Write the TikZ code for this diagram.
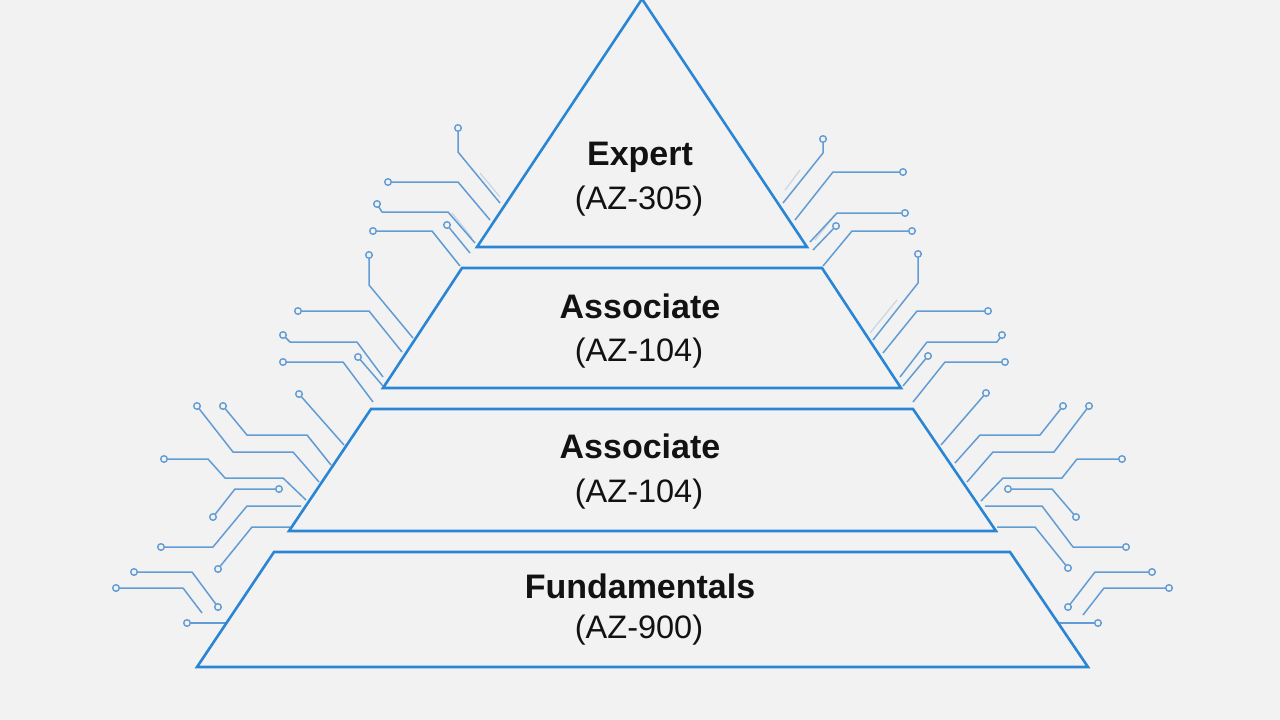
\documentclass[tikz,border=0pt]{standalone}
\usepackage{fontspec}
\setmainfont{Liberation Sans}
\definecolor{bgc}{RGB}{242,242,242}
\definecolor{tierblue}{RGB}{42,134,212}
\definecolor{tracec}{RGB}{98,156,212}
\definecolor{ghostc}{RGB}{200,214,228}
\definecolor{txtc}{RGB}{18,18,18}
\newcommand\ctr[2]{\draw[trace] (#1) #2; \draw[dotc] (#1) circle (3.3);}
\newcommand\tipdot[1]{\draw[dotc] (#1) circle (3.3);}
\begin{document}
\begin{tikzpicture}[x=1pt,y=-1pt,
  tier/.style={draw=tierblue,line width=2.6pt,line join=miter},
  trace/.style={draw=tracec,line width=1.5pt,line join=round},
  dotc/.style={draw=tracec,line width=1.4pt,fill=bgc},
  ghost/.style={draw=ghostc,line width=1.2pt},
  ttl/.style={anchor=base,text=txtc,font=\fontsize{34}{40}\selectfont\bfseries,inner sep=0pt},
  code/.style={anchor=base,text=txtc,font=\fontsize{32.5}{38}\selectfont,inner sep=0pt}]
\fill[bgc] (0,0) rectangle (1280,720);
\useasboundingbox (0,0) rectangle (1280,720);
% tier corners
\coordinate (t1a) at (642,-1);
\coordinate (t1l) at (477,247);
\coordinate (t1r) at (807,247);
\coordinate (t2tl) at (462,268);
\coordinate (t2tr) at (822,268);
\coordinate (t2bl) at (383,388);
\coordinate (t2br) at (901,388);
\coordinate (t3tl) at (371,409);
\coordinate (t3tr) at (913,409);
\coordinate (t3bl) at (289,531);
\coordinate (t3br) at (996,531);
\coordinate (t4tl) at (274,552);
\coordinate (t4tr) at (1010,552);
\coordinate (t4bl) at (197,667);
\coordinate (t4br) at (1088,667);
% ghost lines
\draw[ghost] (480,173) -- (500,197);
\draw[ghost] (452,213) -- (472,238);
\draw[ghost] (800,170) -- (785,190);
\draw[ghost] (897,300) -- (870,333);
\draw[ghost] (835,215) -- (815,240);
% left traces
\ctr{458,128}{-- (458,152) -- (500,203)}
\ctr{388,182}{-- (458,182) -- (490,220)}
\ctr{377,204}{-- (382,212) -- (448,212) -- (475,243)}
\ctr{447,225}{-- (470,253)}
\ctr{373,231}{-- (432,231) -- (460,266)}
\ctr{369,255}{-- (369,285) -- (413,338)}
\ctr{298,311}{-- (369,311) -- (402,352)}
\ctr{283,335}{-- (290,342) -- (357,342) -- (383,377)}
\ctr{283,362}{-- (343,362) -- (373,402)}
\ctr{358,357}{-- (383,386)}
\ctr{299,394}{-- (344,445)}
\ctr{223,406}{-- (247,435) -- (307,435) -- (331,465)}
\ctr{197,406}{-- (233,452) -- (293,452) -- (319,482)}
\ctr{164,459}{-- (208,459) -- (225,478) -- (283,478) -- (306,500)}
\ctr{279,489}{-- (235,489) -- (213,517)} \tipdot{213,517}
\ctr{161,547}{-- (213,547) -- (247,506) -- (301,506)}
\ctr{218,569}{-- (252,527) -- (290,527)}
\ctr{134,572}{-- (192,572) -- (218,607)} \tipdot{218,607}
\ctr{116,588}{-- (183,588) -- (202,613)}
\ctr{187,623}{-- (226,623)}
% right traces
\ctr{823,139}{-- (823,153) -- (783,203)}
\ctr{903,172}{-- (833,172) -- (795,220)}
\ctr{905,213}{-- (837,213) -- (810,242)}
\ctr{836,226}{-- (813,250)}
\ctr{912,231}{-- (852,231) -- (823,266)}
\ctr{918,254}{-- (918,283) -- (873,340)}
\ctr{988,311}{-- (917,311) -- (883,353)}
\ctr{1002,335}{-- (997,342) -- (927,342) -- (900,377)}
\ctr{1005,362}{-- (945,362) -- (913,402)}
\ctr{928,356}{-- (903,386)}
\ctr{986,393}{-- (941,445)}
\ctr{1063,406}{-- (1040,435) -- (980,435) -- (955,463)}
\ctr{1089,406}{-- (1054,452) -- (993,452) -- (967,482)}
\ctr{1122,459}{-- (1077,459) -- (1062,478) -- (1003,478) -- (981,501)}
\ctr{1008,489}{-- (1052,489) -- (1076,517)} \tipdot{1076,517}
\ctr{1126,547}{-- (1073,547) -- (1042,506) -- (985,506)}
\ctr{1068,568}{-- (1035,527) -- (997,527)}
\ctr{1152,572}{-- (1095,572) -- (1068,607)} \tipdot{1068,607}
\ctr{1169,588}{-- (1104,588) -- (1083,615)}
\ctr{1098,623}{-- (1059,623)}
% tiers
\draw[tier] (t1a) -- (t1r) -- (t1l) -- cycle;
\draw[tier] (t2tl) -- (t2tr) -- (t2br) -- (t2bl) -- cycle;
\draw[tier] (t3tl) -- (t3tr) -- (t3br) -- (t3bl) -- cycle;
\draw[tier] (t4tl) -- (t4tr) -- (t4br) -- (t4bl) -- cycle;
% labels
\node[ttl] (n1) at (640,165) {Expert};
\node[code] (c1) at (639,209) {(AZ-305)};
\node[ttl] (n2) at (640,318) {Associate};
\node[code] (c2) at (639,361) {(AZ-104)};
\node[ttl] (n3) at (640,458) {Associate};
\node[code] (c3) at (639,502) {(AZ-104)};
\node[ttl] (n4) at (640,598) {Fundamentals};
\node[code] (c4) at (639,638) {(AZ-900)};
\end{tikzpicture}
\end{document}
